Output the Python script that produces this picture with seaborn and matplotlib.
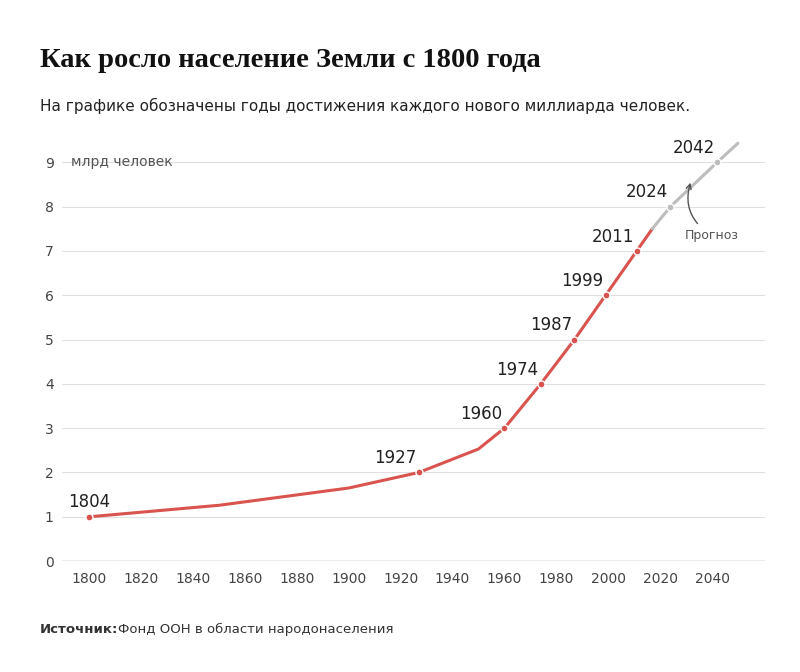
import matplotlib
matplotlib.use("Agg")
import matplotlib.pyplot as plt
import seaborn as sns
import pandas as pd

# Historical population (billions)
hist_years = [1800, 1850, 1900, 1927, 1950, 1960, 1974, 1987, 1999, 2011, 2017]
hist_pop = [1.0, 1.26, 1.65, 2.0, 2.53, 3.0, 4.0, 5.0, 6.0, 7.0, 7.5]
# Forecast
fc_years = [2017, 2024, 2033, 2042, 2050]
fc_pop = [7.5, 8.0, 8.5, 9.0, 9.43]
# Milestones (each new billion)
mile_labels = ["1804", "1927", "1960", "1974", "1987", "1999", "2011", "2024", "2042"]
mile_years = [1800, 1927, 1960, 1974, 1987, 1999, 2011, 2024, 2042]
mile_pop = [1, 2, 3, 4, 5, 6, 7, 8, 9]

hist = pd.DataFrame({"year": hist_years, "pop": hist_pop})
fc = pd.DataFrame({"year": fc_years, "pop": fc_pop})
mile = pd.DataFrame({"year": mile_years, "pop": mile_pop})

red = "#d9534f"
grey = "#bdbdbd"

sns.set_style("white")
fig = plt.figure(figsize=(8, 6.72), dpi=100)
ax = fig.add_axes([0.0775, 0.165, 0.879, 0.6265])

ax.set_xlim(1789.5, 2060.5)
ax.set_ylim(0, 9.5)
for y in range(1, 10):
    ax.axhline(y, color="#e0e0e0", lw=0.8, zorder=0)
ax.axhline(0, color="#999999", lw=1, zorder=0)

sns.lineplot(data=hist, x="year", y="pop", ax=ax, color=red, lw=2.2)
sns.lineplot(data=fc, x="year", y="pop", ax=ax, color=grey, lw=2.2)
sns.scatterplot(data=mile[mile["year"] <= 2011], x="year", y="pop", ax=ax,
                color=red, s=26, edgecolor="white", linewidth=1, zorder=5)
sns.scatterplot(data=mile[mile["year"] > 2011], x="year", y="pop", ax=ax,
                color=grey, s=26, edgecolor="white", linewidth=1, zorder=5)

for lab, yr, p in zip(mile_labels, mile_years, mile_pop):
    if lab == "1804":
        ax.text(yr, p + 0.12, lab, ha="center", va="bottom", fontsize=12, color="#222222")
    else:
        ax.text(yr - 1, p + 0.12, lab, ha="right", va="bottom", fontsize=12, color="#222222")

ax.annotate("Прогноз", xy=(2032, 8.6), xytext=(2040, 7.35), fontsize=9, color="#555555",
            ha="center", va="center",
            arrowprops=dict(arrowstyle="->", color="#555555", connectionstyle="arc3,rad=-0.4", lw=1))

ax.set_xticks(range(1800, 2041, 20))
ax.set_yticks(range(0, 10))
ax.tick_params(axis="x", length=4, color="#999999", labelsize=10, labelcolor="#444444")
ax.tick_params(axis="y", length=0, labelsize=10, labelcolor="#444444", pad=6)
ax.text(1793, 9, "млрд человек", fontsize=10, color="#555555", va="center", ha="left")
ax.set_xlabel("")
ax.set_ylabel("")
sns.despine(ax=ax, left=True, bottom=True)

fig.text(0.05, 0.9, "Как росло население Земли с 1800 года", fontsize=20.5, fontweight="bold",
         family="Liberation Serif", color="#111111")
fig.text(0.05, 0.835, "На графике обозначены годы достижения каждого нового миллиарда человек.",
         fontsize=11, color="#222222")
fig.text(0.05, 0.058, "Источник:", fontsize=9.5, fontweight="bold", color="#333333")
fig.text(0.148, 0.058, "Фонд ООН в области народонаселения", fontsize=9.5, color="#333333")

fig.savefig("out.png", dpi=100)
